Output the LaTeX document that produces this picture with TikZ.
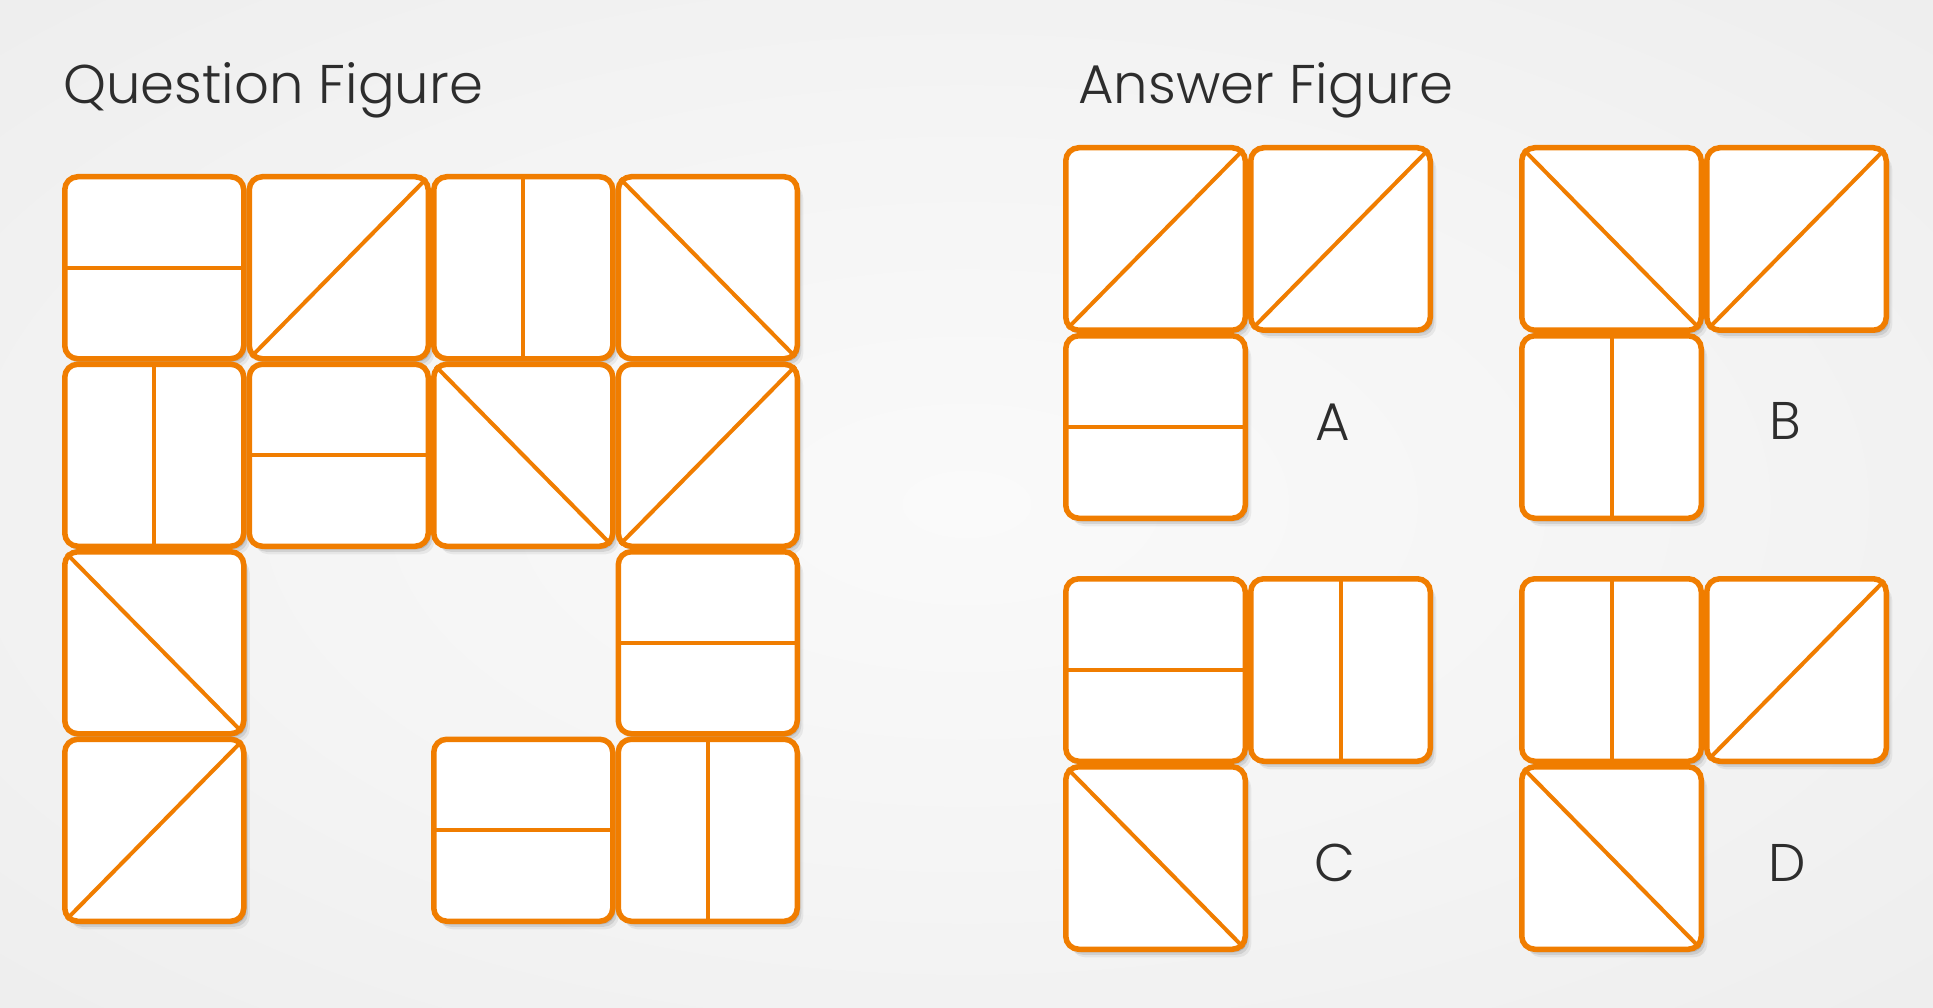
\documentclass[tikz,border=0pt]{standalone}
\usepackage{fontspec}
\setmainfont{Poppins}[UprightFont=* Light]
\usetikzlibrary{shadows}
\definecolor{tileorange}{RGB}{240,125,0}
\definecolor{ink}{RGB}{45,45,45}
\definecolor{bgin}{RGB}{250,250,250}
\definecolor{bgout}{RGB}{232,232,232}
\pgfdeclareradialshading{bgshade}{\pgfpoint{0bp}{0bp}}{color(0bp)=(bgin); color(18bp)=(bgin!70!bgout); color(50bp)=(bgout)}
\newcommand\hzline[1]{\draw[divline] (#1.west) -- (#1.east);}
\newcommand\vtline[1]{\draw[divline] (#1.north) -- (#1.south);}
\newcommand\dgup[1]{\draw[divline,shorten <=2.5pt,shorten >=2.5pt] (#1.south west) -- (#1.north east);}
\newcommand\dgdn[1]{\draw[divline,shorten <=2.5pt,shorten >=2.5pt] (#1.north west) -- (#1.south east);}
\begin{document}
\begin{tikzpicture}[x=1pt,y=-1pt,
  tilebase/.style={draw=tileorange, line width=5.5pt, fill=white, rounded corners=13pt,
    inner sep=0pt, outer sep=0pt,
    drop shadow={shadow xshift=6pt, shadow yshift=-8pt, opacity=0.06, fill=black, draw=none},
    drop shadow={shadow xshift=4pt, shadow yshift=-5.5pt, opacity=0.09, fill=black, draw=none},
    drop shadow={shadow xshift=2.5pt, shadow yshift=-3pt, opacity=0.12, fill=black, draw=none}},
  qtile/.style={tilebase, minimum width=179pt, minimum height=182pt},
  atile/.style={tilebase, minimum width=179.5pt, minimum height=182.5pt},
  divline/.style={draw=tileorange, line width=4pt},
  title/.style={anchor=base west, inner sep=0pt, text=ink, font=\fontsize{54.5}{60}\selectfont},
  letter/.style={inner sep=0pt, text=ink, font=\fontsize{53}{56}\selectfont}]
% background
\shade[shading=bgshade] (0,0) rectangle (1933,1008);
\useasboundingbox (0,0) rectangle (1933,1008);
% titles
\node[title] (qt) at (63,104) {Question Figure};
\node[title] (at) at (1078,104) {Answer Figure};
% question tiles
\node[qtile] (q11) at (154.25,267.75) {};
\node[qtile] (q21) at (338.75,267.75) {};
\node[qtile] (q31) at (523.25,267.75) {};
\node[qtile] (q41) at (707.75,267.75) {};
\node[qtile] (q12) at (154.25,455.25) {};
\node[qtile] (q22) at (338.75,455.25) {};
\node[qtile] (q32) at (523.25,455.25) {};
\node[qtile] (q42) at (707.75,455.25) {};
\node[qtile] (q13) at (154.25,642.75) {};
\node[qtile] (q43) at (707.75,642.75) {};
\node[qtile] (q14) at (154.25,830.25) {};
\node[qtile] (q34) at (523.25,830.25) {};
\node[qtile] (q44) at (707.75,830.25) {};
\hzline{q11} \dgup{q21} \vtline{q31} \dgdn{q41}
\vtline{q12} \hzline{q22} \dgdn{q32} \dgup{q42}
\dgdn{q13} \hzline{q43}
\dgup{q14} \hzline{q34} \vtline{q44}
% answer A
\node[atile] (a1) at (1155.5,239) {};
\node[atile] (a2) at (1340.5,239) {};
\node[atile] (a3) at (1155.5,427) {};
\dgup{a1} \dgup{a2} \hzline{a3}
\node[letter] (la) at (1333,422) {A};
% answer B
\node[atile] (b1) at (1611.5,239) {};
\node[atile] (b2) at (1796.5,239) {};
\node[atile] (b3) at (1611.5,427) {};
\dgdn{b1} \dgup{b2} \vtline{b3}
\node[letter] (lb) at (1785,421) {B};
% answer C
\node[atile] (c1) at (1155.5,670) {};
\node[atile] (c2) at (1340.5,670) {};
\node[atile] (c3) at (1155.5,858) {};
\hzline{c1} \vtline{c2} \dgdn{c3}
\node[letter] (lc) at (1335,863) {C};
% answer D
\node[atile] (d1) at (1611.5,670) {};
\node[atile] (d2) at (1796.5,670) {};
\node[atile] (d3) at (1611.5,858) {};
\vtline{d1} \dgup{d2} \dgdn{d3}
\node[letter] (ld) at (1787,863) {D};
\end{tikzpicture}
\end{document}
